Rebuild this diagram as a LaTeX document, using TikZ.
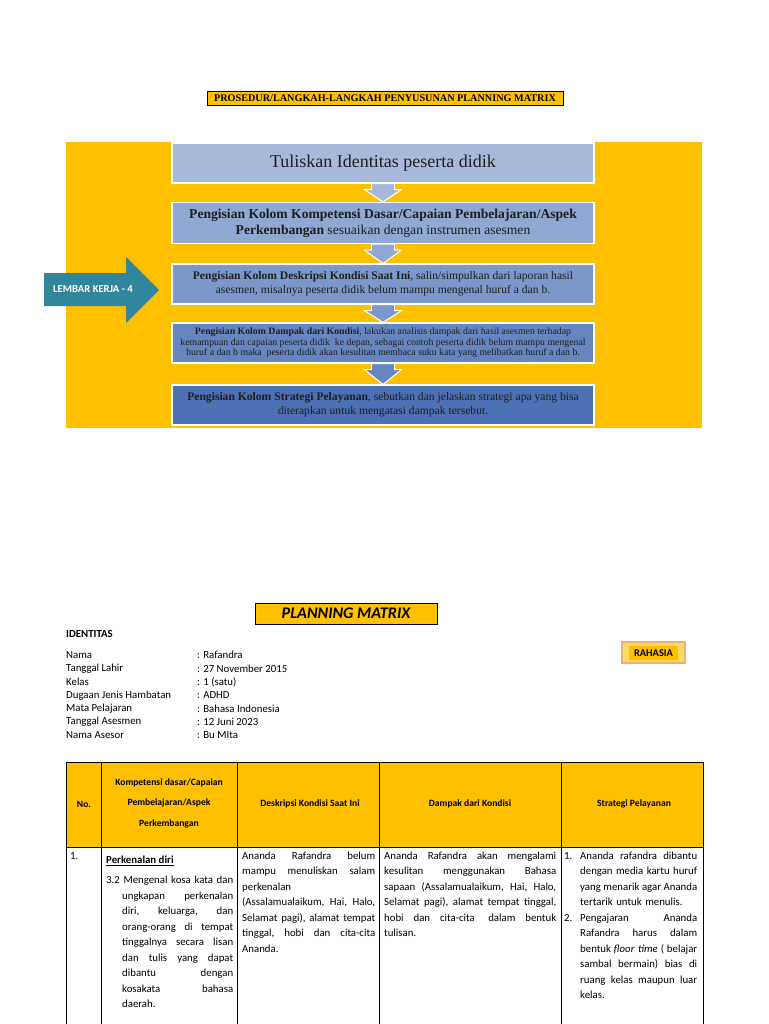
\documentclass[tikz,border=0pt]{standalone}
\usepackage{fontspec}
\setmainfont{Carlito}
\newfontfamily\boxfont{Liberation Serif}
\usetikzlibrary{calc}

\definecolor{gold}{HTML}{FFC000}
\definecolor{stepA}{HTML}{A7B8DA}
\definecolor{stepB}{HTML}{91A8D2}
\definecolor{stepC}{HTML}{7C97CA}
\definecolor{stepD}{HTML}{6686C2}
\definecolor{stepE}{HTML}{4C70B4}
\definecolor{lkteal}{HTML}{31859C}
\definecolor{rahasiaedge}{HTML}{F6AE6E}
\definecolor{rahasiafill}{HTML}{FFD966}

% one justified line of a table cell (spaces become \hfill)
\ExplSyntaxOn
\NewDocumentCommand{\jl}{O{\hsize}m}
 {
  \tl_set:Nn \l_tmpa_tl {#2}
  \tl_replace_all:Nnn \l_tmpa_tl {~} {\hfill}
  \mode_leave_vertical:
  \hbox_to_wd:nn {#1} {\l_tmpa_tl}
 }
\ExplSyntaxOff

\tikzset{
  stepbox/.style={draw=white, line width=1.2pt, minimum width=422pt, align=center,
    text=black!88, inner sep=2pt},
  downarrow/.style={draw=white, line width=1pt},
  rowlabel/.style={anchor=west, inner sep=0pt, font=\fontsize{10.8}{12}\selectfont},
  hdr/.style={inner sep=0pt, align=center, font=\fontsize{9.6}{20.5}\selectfont\bfseries},
  cell/.style={anchor=base west, inner sep=0pt, align=left, font=\fontsize{10.8}{15.5}\selectfont},
  tableline/.style={draw=black, line width=0.9pt},
}

\begin{document}
\begin{tikzpicture}[x=1pt, y=-1pt]

\useasboundingbox (0,0) rectangle (768,1024);
\fill[white] (0,0) rectangle (768,1024);


% Title of the procedure
\filldraw[fill=gold, draw=black, line width=0.9pt] (207,91) rectangle (563,105);
\path
(385,98) node [inner sep=0pt, font=\boxfont\fontsize{10.2}{11}\selectfont\bfseries] (proctitle)
  {PROSEDUR/LANGKAH-LANGKAH PENYUSUNAN PLANNING MATRIX};



% Yellow panel
\fill[gold] (66,142) rectangle (702,428);


% Steps
\path
(383,163) node [stepbox, fill=stepA, minimum height=40pt,
  font=\boxfont\fontsize{18}{20}\selectfont] (identitas) {Tuliskan Identitas peserta didik};

\path
(383,223) node [stepbox, fill=stepB, minimum height=41pt,
  font=\boxfont\fontsize{13.6}{16}\selectfont] (kompetensi)
  {\textbf{Pengisian Kolom Kompetensi Dasar/Capaian Pembelajaran/Aspek}\\
   \textbf{Perkembangan} sesuaikan dengan instrumen asesmen};

\path
(383,284) node [stepbox, fill=stepC, minimum height=40pt,
  font=\boxfont\fontsize{11.6}{14}\selectfont] (deskripsi)
  {\textbf{Pengisian Kolom Deskripsi Kondisi Saat Ini}, salin/simpulkan dari laporan hasil\\
   asesmen, misalnya peserta didik belum mampu mengenal huruf a dan b.};

\path
(383,343) node [stepbox, fill=stepD, minimum height=40pt,
  font=\boxfont\fontsize{9.8}{10.6}\selectfont] (dampak)
  {\textbf{Pengisian Kolom Dampak dari Kondisi}, lakukan analisis dampak dari hasil asesmen terhadap\\
   kemampuan dan capaian peserta didik\ \ ke depan, sebagai contoh peserta didik belum mampu mengenal\\
   huruf a dan b maka\ \ peserta didik akan kesulitan membaca suku kata yang melibatkan huruf a dan b.};

\path
(383,405) node [stepbox, fill=stepE, minimum height=40pt,
  font=\boxfont\fontsize{11.6}{14}\selectfont] (strategi)
  {\textbf{Pengisian Kolom Strategi Pelayanan}, sebutkan dan jelaskan strategi apa yang bisa\\
   diterapkan untuk mengatasi dampak tersebut.};


% Arrows between the steps
\filldraw[downarrow, fill=stepA] ($(identitas.south)+(-11.5,0)$) -- ($(identitas.south)+(11.5,0)$)
  -- ($(identitas.south)+(11.5,6)$) -- ($(identitas.south)+(18.5,6)$) -- (kompetensi.north)
  -- ($(identitas.south)+(-18.5,6)$) -- ($(identitas.south)+(-11.5,6)$) -- cycle;
\filldraw[downarrow, fill=stepB] ($(kompetensi.south)+(-11.5,0)$) -- ($(kompetensi.south)+(11.5,0)$)
  -- ($(kompetensi.south)+(11.5,6)$) -- ($(kompetensi.south)+(18.5,6)$) -- (deskripsi.north)
  -- ($(kompetensi.south)+(-18.5,6)$) -- ($(kompetensi.south)+(-11.5,6)$) -- cycle;
\filldraw[downarrow, fill=stepC] ($(deskripsi.south)+(-11.5,0)$) -- ($(deskripsi.south)+(11.5,0)$)
  -- ($(deskripsi.south)+(11.5,6)$) -- ($(deskripsi.south)+(18.5,6)$) -- (dampak.north)
  -- ($(deskripsi.south)+(-18.5,6)$) -- ($(deskripsi.south)+(-11.5,6)$) -- cycle;
\filldraw[downarrow, fill=stepD] ($(dampak.south)+(-11.5,0)$) -- ($(dampak.south)+(11.5,0)$)
  -- ($(dampak.south)+(11.5,6)$) -- ($(dampak.south)+(18.5,6)$) -- (strategi.north)
  -- ($(dampak.south)+(-18.5,6)$) -- ($(dampak.south)+(-11.5,6)$) -- cycle;


% Lembar kerja arrow
\fill[lkteal] (44,273) -- (126,273) -- (126,257) -- (159,290) -- (126,323) -- (126,306)
  -- (44,306) -- cycle;
\path
(93,289.5) node [text=white, inner sep=0pt, font=\fontsize{10.6}{12}\selectfont\bfseries] (lembar) {LEMBAR KERJA - 4};




% Planning matrix title
\filldraw[fill=gold, draw=black, line width=0.9pt] (255,603) rectangle (437,624);
\path
(346,613.5) node [inner sep=0pt, font=\fontsize{16.2}{18}\selectfont\bfseries\itshape] (pmtitle) {PLANNING MATRIX};


% Identitas
\path
(66,634) node [rowlabel, font=\fontsize{10.8}{12}\selectfont\bfseries] (identitashead) {IDENTITAS};

\path
(66,655) node [rowlabel] (nama) {Nama}
(66,668.4) node [rowlabel] (lahir) {Tanggal Lahir}
(66,681.8) node [rowlabel] (kelas) {Kelas}
(66,695.2) node [rowlabel] (hambatan) {Dugaan Jenis Hambatan}
(66,708.6) node [rowlabel] (mapel) {Mata Pelajaran}
(66,722) node [rowlabel] (asesmen) {Tanggal Asesmen}
(66,735.4) node [rowlabel] (asesor) {Nama Asesor};

\path
(197,655) node [rowlabel] (namaval) {: Rafandra}
(197,668.4) node [rowlabel] (lahirval) {: 27 November 2015}
(197,681.8) node [rowlabel] (kelasval) {: 1 (satu)}
(197,695.2) node [rowlabel] (hambatanval) {: ADHD}
(197,708.6) node [rowlabel] (mapelval) {: Bahasa Indonesia}
(197,722) node [rowlabel] (asesmenval) {: 12 Juni 2023}
(197,735.4) node [rowlabel] (asesorval) {: Bu MIta};


% Rahasia stamp
\filldraw[fill=rahasiafill, draw=rahasiaedge, line width=1.2pt] (622,642) rectangle (685,663);
\path
(653.5,653) node [fill=gold, inner xsep=5pt, inner ysep=3.6pt,
  font=\fontsize{10.4}{11}\selectfont\bfseries] (rahasia) {RAHASIA};




% Table header
\filldraw[fill=gold, tableline] (66,762) rectangle (703,847);

\path
(84,804) node [hdr] (hno) {No.}
(169,803) node [hdr] (hkd) {Kompetensi dasar/Capaian\\ Pembelajaran/Aspek\\ Perkembangan}
(310,804) node [hdr] (hdesk) {Deskripsi Kondisi Saat Ini}
(470,804) node [hdr] (hdampak) {Dampak dari Kondisi}
(634,804) node [hdr] (hstrat) {Strategi Pelayanan};


% Table columns
\draw[tableline] (66,762) -- (66,1024);
\draw[tableline] (101,762) -- (101,1024);
\draw[tableline] (237,762) -- (237,1024);
\draw[tableline] (379,762) -- (379,1024);
\draw[tableline] (561,762) -- (561,1024);
\draw[tableline] (703,762) -- (703,1024);


% Row 1
\path
(70,859) node [cell] (no1) {1.};

\path
(106,863.5) node [cell, font=\fontsize{10.8}{15.5}\selectfont\bfseries] (kdhead) {\underline{Perkenalan diri}};

\path
(106,883.5) node [cell, text width=127pt] (kdtext)
  {\jl{3.2 Mengenal kosa kata dan}\\
   \hspace*{16pt}\jl[111pt]{ungkapan perkenalan}\\
   \hspace*{16pt}\jl[111pt]{diri, keluarga, dan}\\
   \hspace*{16pt}\jl[111pt]{orang-orang di tempat}\\
   \hspace*{16pt}\jl[111pt]{tinggalnya secara lisan}\\
   \hspace*{16pt}\jl[111pt]{dan tulis yang dapat}\\
   \hspace*{16pt}\jl[111pt]{dibantu dengan}\\
   \hspace*{16pt}\jl[111pt]{kosakata bahasa}\\
   \hspace*{16pt}daerah.};

\path
(242,859) node [cell, text width=133pt] (desk1)
  {\jl{Ananda Rafandra belum}\\
   \jl{mampu menuliskan salam}\\
   perkenalan\\
   \jl{(Assalamualaikum, Hai, Halo,}\\
   \jl{Selamat pagi), alamat tempat}\\
   \jl{tinggal, hobi dan cita-cita}\\
   Ananda.};

\path
(384,859) node [cell, text width=172pt] (dampak1)
  {\jl{Ananda Rafandra akan mengalami}\\
   \jl{kesulitan menggunakan Bahasa}\\
   \jl{sapaan (Assalamualaikum, Hai, Halo,}\\
   \jl{Selamat pagi), alamat tempat tinggal,}\\
   \jl{hobi dan cita-cita \ dalam bentuk}\\
   tulisan.};

\path
(564,859) node [cell] (strat1no) {1.}
(564,921) node [cell] (strat2no) {2.};

\path
(580,859) node [cell, text width=117pt] (strat1)
  {\jl{Ananda rafandra dibantu}\\
   \jl{dengan media kartu huruf}\\
   \jl{yang menarik agar Ananda}\\
   tertarik untuk menulis.\\
   \jl{Pengajaran Ananda}\\
   \jl{Rafandra harus dalam}\\
   \jl{bentuk \textit{floor time} ( belajar}\\
   \jl{sambal bermain) bias di}\\
   \jl{ruang kelas maupun luar}\\
   kelas.};


\end{tikzpicture}
\end{document}
